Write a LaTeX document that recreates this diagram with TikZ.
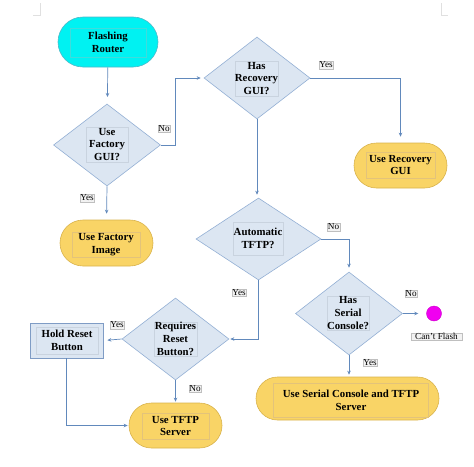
\documentclass[tikz,border=0pt]{standalone}
\usepackage{fontspec}
\setmainfont{Liberation Serif}
\usetikzlibrary{shapes.geometric,shapes.misc,arrows.meta}
\definecolor{dfill}{HTML}{DCE6F2}
\definecolor{dline}{HTML}{93AFD4}
\definecolor{dinner}{HTML}{C9D3DF}
\definecolor{yfill}{HTML}{F9D466}
\definecolor{yline}{HTML}{D8B24C}
\definecolor{yinner}{HTML}{E3C37A}
\definecolor{cfill}{HTML}{00F2F2}
\definecolor{cline}{HTML}{4DB8C8}
\definecolor{cinner}{HTML}{3FDCDC}
\definecolor{aline}{HTML}{6189BC}
\definecolor{hline}{HTML}{7F9CC5}
\definecolor{lfill}{HTML}{F2F2F2}
\definecolor{lline}{HTML}{BFBFBF}
\definecolor{mag}{HTML}{F000F0}
\tikzset{
  decide/.style={diamond, draw=dline, fill=dfill, line width=0.6pt, inner sep=0pt, minimum width=107pt, minimum height=82pt},
  term/.style={rounded rectangle, draw=yline, fill=yfill, line width=0.6pt, inner sep=0pt},
  tbox/.style={rectangle, draw, line width=0.4pt, inner sep=0pt, align=center, font=\fontsize{10.8}{12.8}\selectfont\bfseries},
  lbl/.style={rectangle, draw=lline, fill=lfill, line width=0.3pt, inner sep=0.6pt, font=\fontsize{9.2}{10}\selectfont},
  conn/.style={draw=aline, line width=0.7pt, -{Stealth[length=4pt,width=3.5pt]}},
}
\begin{document}
\begin{tikzpicture}[x=1pt,y=-1pt]
\useasboundingbox (0,0) rectangle (474,466);
% faint page corner marks
\draw[black!12, line width=0.4pt] (40,3) -- (40,15) -- (33,15);
\draw[black!12, line width=0.4pt] (441,3) -- (441,15) -- (448,15);

% Flashing Router
\node[term, draw=cline, fill=cfill, minimum width=100pt, minimum height=50pt] (fr) at (108,42) {};
\node[tbox, draw=cinner, minimum width=76pt, minimum height=29pt] (frt) at (108,42.5) {Flashing\\Router};

% Use Factory GUI?
\node[decide] (fgui) at (107,145) {};
\node[tbox, draw=dinner, minimum width=42pt, minimum height=35pt] (fguit) at (107,144.5) {Use\\Factory\\GUI?};

% Has Recovery GUI?
\node[decide, minimum width=106pt] (rgui) at (257,78) {};
\node[tbox, draw=dinner, minimum width=43pt, minimum height=35pt] (rguit) at (256.5,78.5) {Has\\Recovery\\GUI?};

% Use Recovery GUI
\node[term, minimum width=93pt, minimum height=45pt] (rec) at (400.5,165.5) {};
\node[tbox, draw=yinner, minimum width=69pt, minimum height=26pt] (rect) at (400.5,165) {Use Recovery\\GUI};

% Use Factory Image
\node[term, minimum width=93pt, minimum height=46pt] (fimg) at (106.5,243) {};
\node[tbox, draw=yinner, minimum width=68pt, minimum height=25pt] (fimgt) at (106,244.5) {Use Factory\\Image};

% Automatic TFTP?
\node[decide, minimum width=125pt, minimum height=82pt] (atftp) at (258.5,239) {};
\node[tbox, draw=dinner, minimum width=50pt, minimum height=33pt] (atftpt) at (258,238.5) {Automatic\\TFTP?};

% Has Serial Console?
\node[decide, minimum height=83pt] (serial) at (349,313.5) {};
\node[tbox, draw=dinner, minimum width=42pt, minimum height=34pt] (serialt) at (348,313) {Has\\Serial\\Console?};

% Can't Flash
\node[circle, draw=mag!85!black, fill=mag, line width=0.4pt, minimum size=15pt, inner sep=0pt] (cant) at (434,313.5) {};

% Use Serial Console and TFTP Server
\node[term, minimum width=183pt, minimum height=43pt] (sctftp) at (347.5,398.5) {};
\node[tbox, draw=yinner, minimum width=155pt, minimum height=34pt] (sctftpt) at (351,400) {Use Serial Console and TFTP\\Server};

% Requires Reset Button?
\node[decide] (req) at (175.5,339) {};
\node[tbox, draw=dinner, minimum width=43pt, minimum height=34pt] (reqt) at (175.5,339) {Requires\\Reset\\Button?};

% Hold Reset Button
\node[rectangle, draw=hline, fill=dfill, line width=0.7pt, minimum width=73pt, minimum height=35pt, inner sep=0pt] (hold) at (66.5,340.5) {};
\node[tbox, draw=dinner, minimum width=62pt, minimum height=27pt] (holdt) at (67,340.5) {Hold Reset\\Button};

% Use TFTP Server
\node[term, minimum width=93pt, minimum height=45pt] (tftp) at (175.5,425.5) {};
\node[tbox, draw=yinner, minimum width=67pt, minimum height=26pt] (tftpt) at (175.5,426) {Use TFTP\\Server};

% connectors
\coordinate (c1) at (175,78);
\draw[conn, shorten >=7pt] (fr) -- (fgui);
\draw[conn, shorten >=3pt] (fgui.east) -| (c1) -- (rgui.west);
\draw[conn, shorten >=6pt] (fgui.south) -- (fimg.north);
\draw[conn, shorten >=6pt] (rgui.east) -| (rec.north);
\draw[conn, shorten >=3pt] (rgui.south) -- (rgui.south |- atftp.north);
\draw[conn, shorten >=4pt] (atftp.east) -| (serial.north);
\draw[conn, shorten >=8pt] (serial.east) -- (cant.west);
\draw[conn, shorten >=2pt] (serial.south) -- (serial.south |- sctftp.north);
\draw[conn, shorten >=1pt] (atftp.south) |- (req.east);
\draw[conn, shorten >=4pt] (req.west) -- (hold.east);
\draw[conn, shorten >=1pt] (req.south) -- (tftp.north);
\draw[conn, shorten >=1pt] (hold.south) |- (tftp.west);

% labels
\node[lbl] (l1) at (164,128.5) {No};
\node[lbl] (l2) at (87,198) {Yes};
\node[lbl] (l3) at (326,65) {Yes};
\node[lbl] (l4) at (333.5,227) {No};
\node[lbl] (l5) at (411,293.5) {No};
\node[lbl, minimum width=51pt] (l6) at (436.5,336.5) {Can’t Flash};
\node[lbl] (l7) at (370,362.5) {Yes};
\node[lbl] (l8) at (239,292.5) {Yes};
\node[lbl] (l9) at (117,325) {Yes};
\node[lbl] (l10) at (195,388.5) {No};
\end{tikzpicture}
\end{document}
